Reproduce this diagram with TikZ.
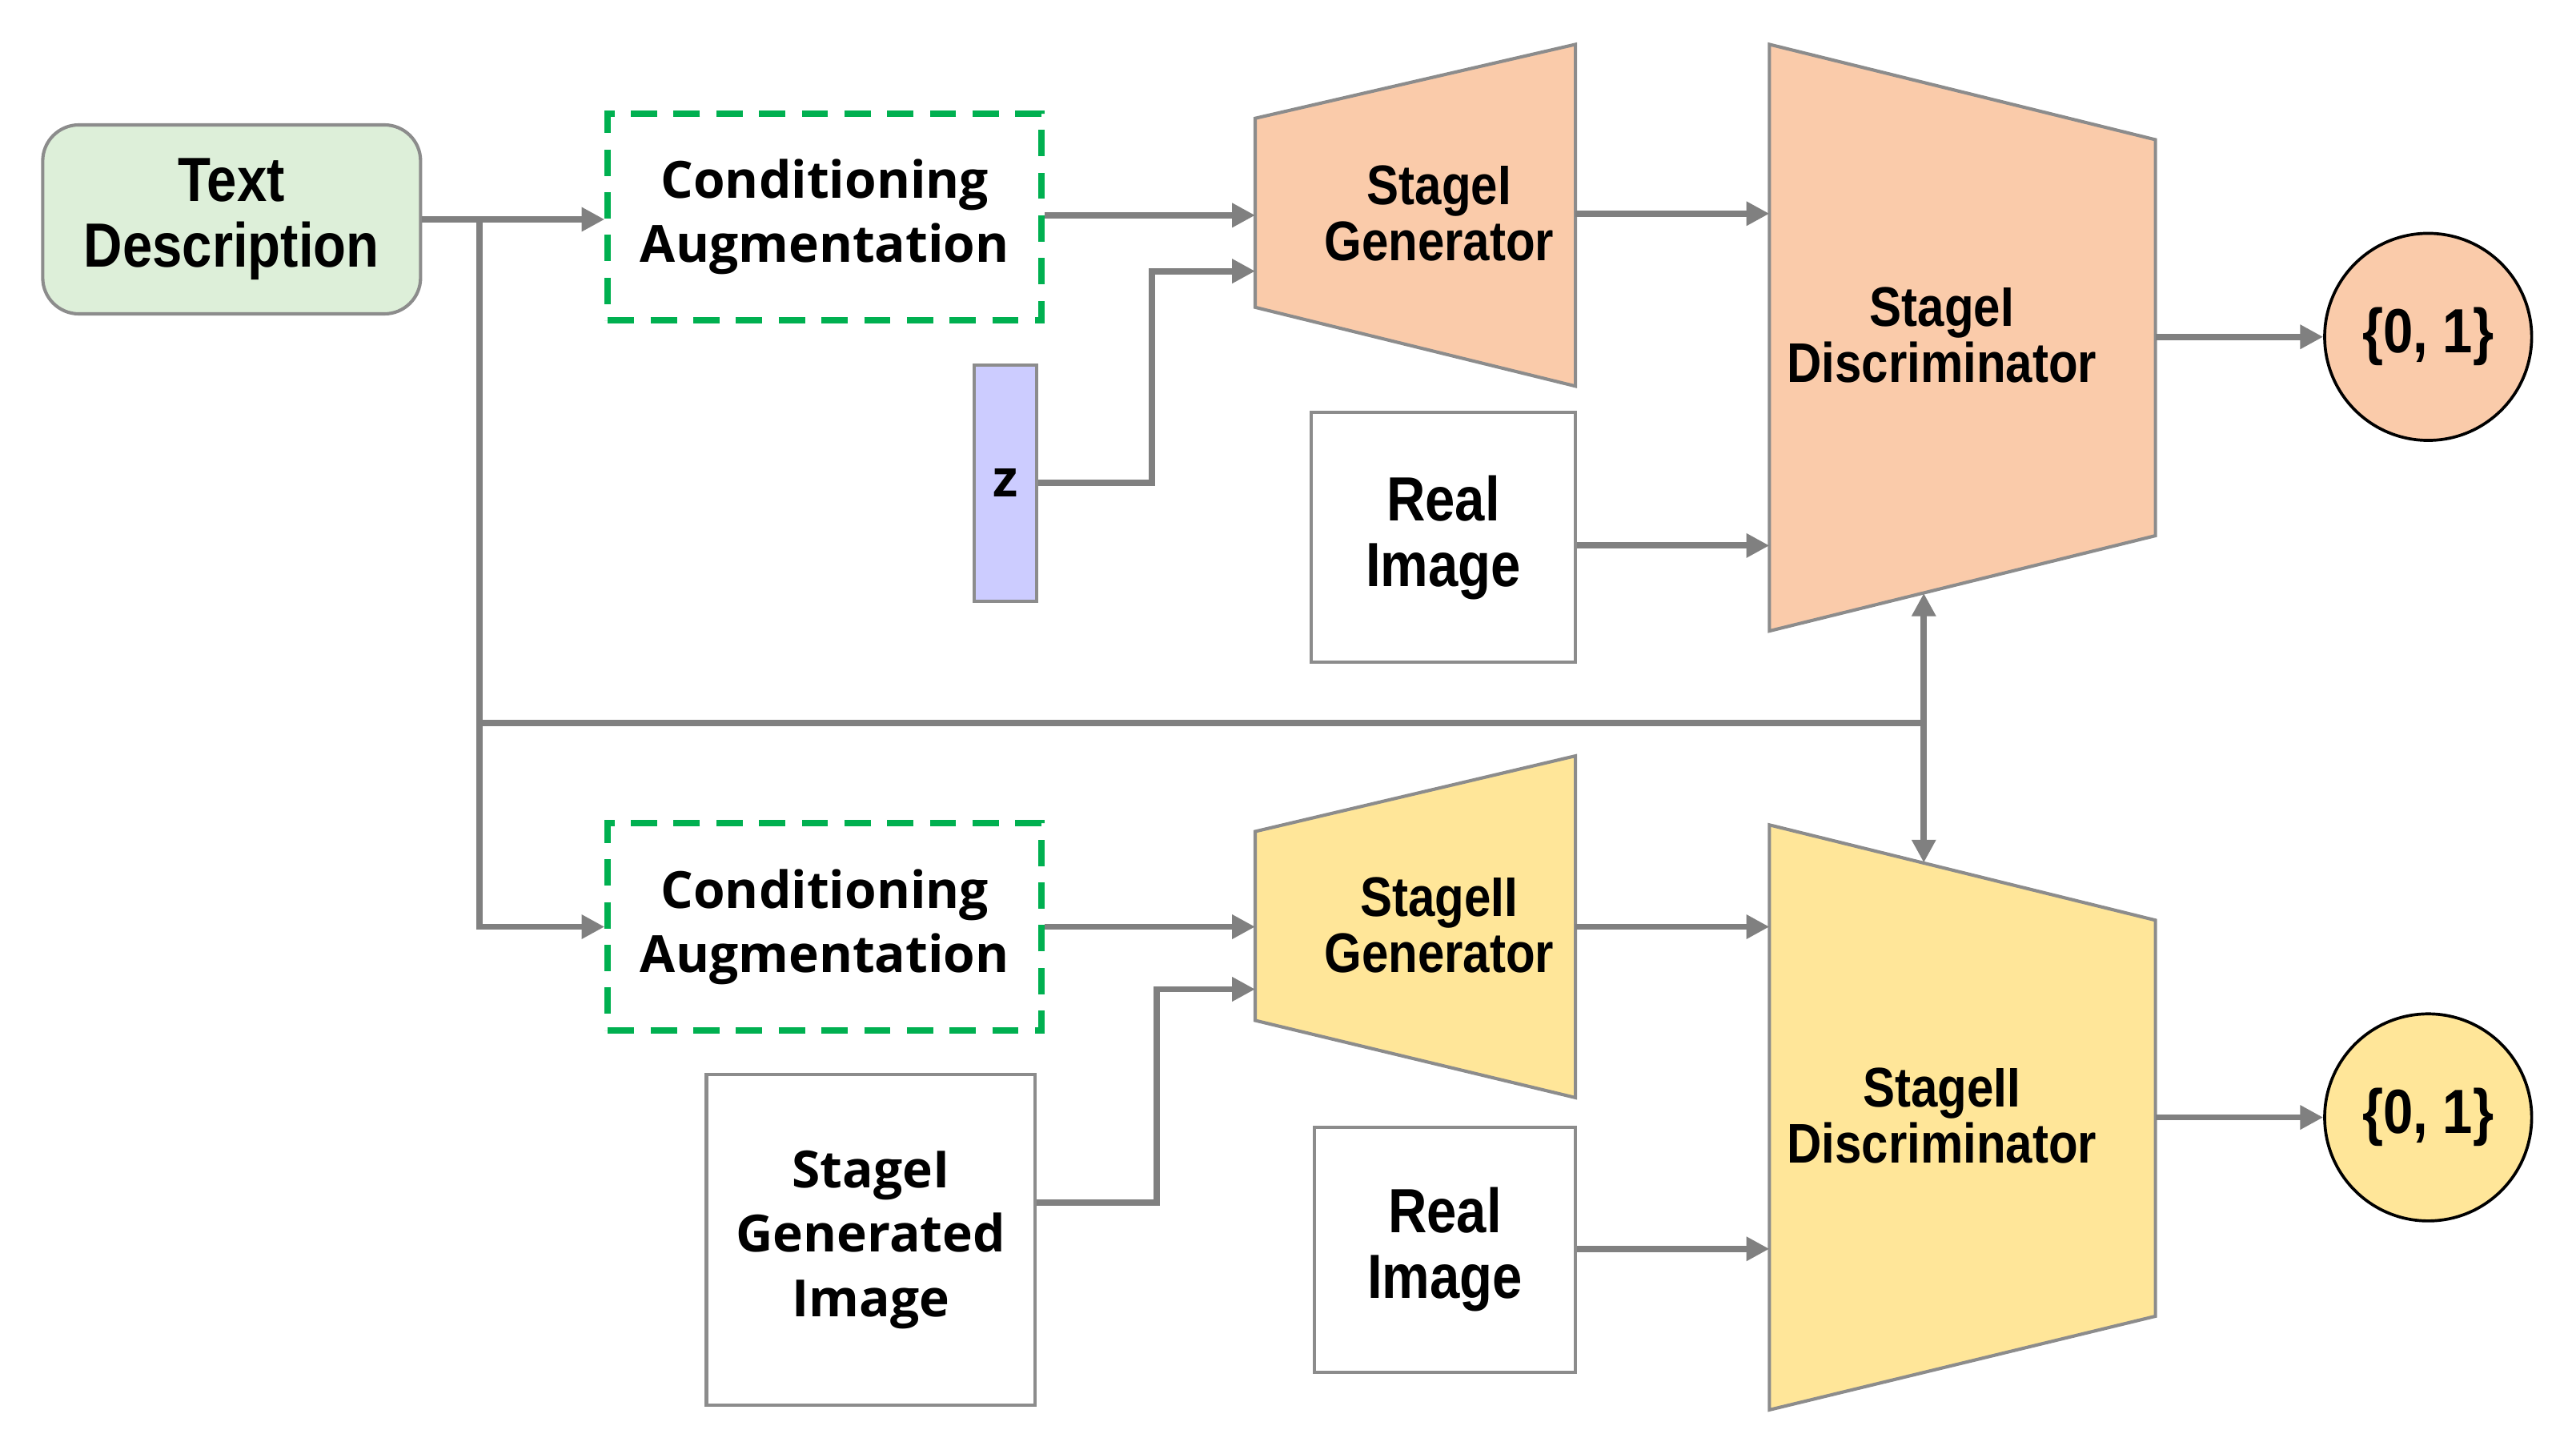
\documentclass[tikz,border=0pt]{standalone}
\usepackage{fontspec}
\setmainfont{Liberation Sans}
\newfontfamily\condfont[FakeStretch=0.86]{Liberation Sans}
\newfontfamily\widefont{Open Sans}
\usetikzlibrary{arrows.meta}
\definecolor{linegray}{HTML}{808080}
\definecolor{bordergray}{HTML}{8C8C8C}
\definecolor{tdgreen}{HTML}{DDEFD9}
\definecolor{cagreen}{HTML}{00B050}
\definecolor{orangefill}{HTML}{FACBAA}
\definecolor{yellowfill}{HTML}{FFE699}
\definecolor{zfill}{HTML}{CCCCFF}
\begin{document}
\begin{tikzpicture}[x=0.5pt,y=-0.5pt,
  conn/.style={draw=linegray,line width=1.9pt},
  arr/.style={conn,-{Triangle[length=7pt,width=7pt]}},
  condbig/.style={font={\condfont\bfseries\fontsize{19}{20}\selectfont},align=center},
  condsmall/.style={font={\condfont\bfseries\fontsize{17}{17}\selectfont},align=center},
  widetext/.style={font={\widefont\bfseries\fontsize{15.6}{19.5}\selectfont},align=center},
  tdbox/.style={draw=bordergray,fill=tdgreen,line width=1pt,rounded corners=11pt,minimum width=115pt,minimum height=57.5pt,inner sep=0pt,condbig},
  cabox/.style={draw=cagreen,line width=2pt,dash pattern=on 8pt off 5pt,minimum width=132pt,minimum height=63pt,inner sep=0pt,widetext},
  imgbox/.style={draw=bordergray,fill=white,line width=1pt,inner sep=0pt},
  shapeborder/.style={draw=bordergray,line width=1pt},
  outcircle/.style={circle,draw=black,line width=0.9pt,minimum size=63pt,inner sep=0pt,condbig}
]
\useasboundingbox (0,0) rectangle (1568,879.5);

% trapezoid shapes
\draw[shapeborder,fill=orangefill] (764,72) -- (959,27) -- (959,235) -- (764,187) -- cycle;
\draw[shapeborder,fill=orangefill] (1077,27) -- (1312,85) -- (1312,326) -- (1077,384) -- cycle;
\draw[shapeborder,fill=yellowfill] (764,506) -- (959,460) -- (959,668) -- (764,621) -- cycle;
\draw[shapeborder,fill=yellowfill] (1077,502) -- (1312,560) -- (1312,801) -- (1077,858) -- cycle;

% nodes
\node[tdbox] (td) at (141,133.5) {Text\\Description};
\node[cabox] (ca1) at (502,132) {Conditioning\\Augmentation};
\node[cabox] (ca2) at (502,564) {Conditioning\\Augmentation};
\node[imgbox,fill=zfill,minimum width=19pt,minimum height=72pt,widetext] (z) at (612,294) {z};
\node[imgbox,minimum width=80.5pt,minimum height=76pt,condbig] (r1) at (878.5,327) {Real\\Image};
\node[imgbox,minimum width=79.5pt,minimum height=74.5pt,condbig] (r2) at (879.5,760.5) {Real\\Image};
\node[imgbox,minimum width=100pt,minimum height=100.5pt,widetext] (sg) at (530,754.5) {StageI\\Generated\\Image};
\node[condsmall] (g1) at (876,130) {StageI\\Generator};
\node[condsmall] (d1) at (1182,204) {StageI\\Discriminator};
\node[condsmall] (g2) at (876,563) {StageII\\Generator};
\node[condsmall] (d2) at (1182,679) {StageII\\Discriminator};
\node[outcircle,fill=orangefill] (c1) at (1478,205) {\{0, 1\}};
\node[outcircle,fill=yellowfill] (c2) at (1478,680) {\{0, 1\}};

% connection points on the trapezoids
\coordinate (g1in1) at (764,131);
\coordinate (g1in2) at (764,165);
\coordinate (g1out) at (959,130);
\coordinate (d1in1) at (1077,130);
\coordinate (d1in2) at (1077,332);
\coordinate (d1out) at (1312,205);
\coordinate (d1bot) at (1171,361);
\coordinate (g2in1) at (764,564);
\coordinate (g2in2) at (764,602);
\coordinate (g2out) at (959,564);
\coordinate (d2in1) at (1077,564);
\coordinate (d2in2) at (1077,760);
\coordinate (d2out) at (1312,680);
\coordinate (d2top) at (1171,525);
\coordinate (br) at (292,133.5);
\coordinate (hl) at (292,440);
\coordinate (hr) at (1171,440);

% connectors
\draw[arr] (td.east) -- (td.east -| ca1.west);
\draw[conn] (br) -- (hl) -- (hr);
\draw[arr] (hl) |- (ca2.west);
\draw[arr] (hr) -- (d1bot);
\draw[arr] (hr) -- (d2top);
\draw[arr] (ca1.east |- g1in1) -- (g1in1);
\draw[arr] (z.east) -- ++(69,0) |- (g1in2);
\draw[arr] (g1out) -- (d1in1);
\draw[arr] (r1.east |- d1in2) -- (d1in2);
\draw[arr] (d1out) -- (c1.west);
\draw[arr] (ca2.east) -- (g2in1);
\draw[arr] (sg.east |- 0,732) -- ++(73,0) |- (g2in2);
\draw[arr] (g2out) -- (d2in1);
\draw[arr] (r2.east |- d2in2) -- (d2in2);
\draw[arr] (d2out) -- (c2.west);
\end{tikzpicture}
\end{document}
